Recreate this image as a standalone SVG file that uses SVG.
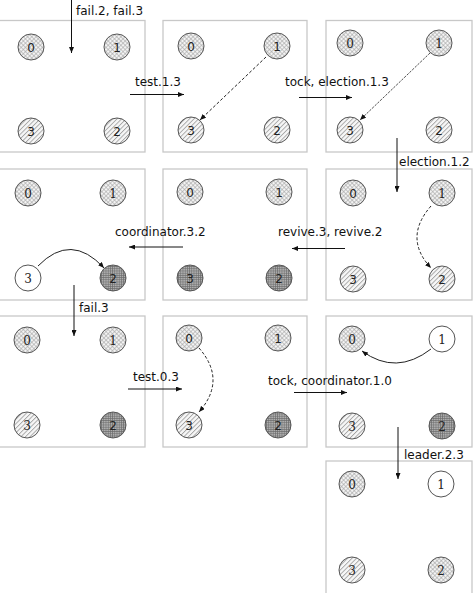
<svg xmlns="http://www.w3.org/2000/svg" width="474" height="593" viewBox="0 0 474 593">
<defs>
<pattern id="lx" width="3" height="3" patternUnits="userSpaceOnUse" patternTransform="rotate(45)">
<rect width="3" height="3" fill="#f4f4f4"/>
<path d="M0,0.5H3M0.5,0V3" stroke="#a4a4a4" stroke-width="0.6"/>
</pattern>
<pattern id="dg" width="3.2" height="3.2" patternUnits="userSpaceOnUse" patternTransform="rotate(-45)">
<rect width="3.2" height="3.2" fill="#f7f7f7"/>
<path d="M0,0.5H3.2" stroke="#8a8a8a" stroke-width="0.7"/>
</pattern>
<pattern id="dk" width="2.2" height="2.2" patternUnits="userSpaceOnUse">
<rect width="2.2" height="2.2" fill="#b0b0b0"/>
<path d="M0,0.4H2.2M0.4,0V2.2" stroke="#6a6a6a" stroke-width="0.6"/>
</pattern>
<marker id="ah" viewBox="0 0 6 5" refX="6" refY="2.5" markerWidth="6" markerHeight="5" orient="auto" markerUnits="userSpaceOnUse">
<path d="M0,0L6,2.5L0,5z" fill="#111"/>
</marker>
<style>
.panel{fill:#fff;stroke:#c8c8c8;stroke-width:1.3}
.n circle{stroke:#555;stroke-width:1}
.n text{font-family:"DejaVu Sans",sans-serif;font-size:12px;fill:#222;text-anchor:middle}
.s text{font-family:"DejaVu Serif",serif}
.lx{fill:url(#lx)}
.dg{fill:url(#dg)}
.dk{fill:url(#dk)}
.wh{fill:#fff}
.lbl{font-family:"DejaVu Sans",sans-serif;font-size:12px;fill:#111}
.tr{fill:none;stroke:#111;stroke-width:1;marker-end:url(#ah)}
.msg{fill:none;stroke:#222;stroke-width:1;marker-end:url(#ah)}
.dash{stroke-dasharray:3,2}
.fine{stroke-dasharray:2.5,1.2;stroke-width:0.8}
</style>
</defs>

<g id="panels">
<rect id="pA" class="panel" x="-1" y="20.5" width="146" height="131.5"/>
<rect id="pB" class="panel" x="163" y="20.5" width="144" height="131.5"/>
<rect id="pC" class="panel" x="326" y="20.5" width="146" height="131.5"/>
<rect id="pD" class="panel" x="-1" y="169" width="146" height="131"/>
<rect id="pE" class="panel" x="163" y="169" width="144" height="131"/>
<rect id="pF" class="panel" x="326" y="169" width="146" height="131"/>
<rect id="pG" class="panel" x="-1" y="316" width="146" height="131"/>
<rect id="pH" class="panel" x="163" y="316" width="144" height="131"/>
<rect id="pI" class="panel" x="326" y="316" width="146" height="131"/>
<rect id="pJ" class="panel" x="326" y="461" width="146" height="140"/>
</g>

<!-- Panel A -->
<g id="A0" class="n"><circle class="lx" cx="31" cy="47" r="13"/><text x="31" y="51.5">0</text></g>
<g id="A1" class="n"><circle class="lx" cx="117" cy="47" r="13"/><text x="117" y="51.5">1</text></g>
<g id="A3" class="n"><circle class="dg" cx="31" cy="131" r="13"/><text x="31" y="135.5">3</text></g>
<g id="A2" class="n"><circle class="dg" cx="117" cy="131" r="13"/><text x="117" y="135.5">2</text></g>

<!-- Panel B -->
<g id="B0" class="n"><circle class="lx" cx="191" cy="46" r="13"/><text x="191" y="50.5">0</text></g>
<g id="B1" class="n"><circle class="lx" cx="277" cy="46" r="13"/><text x="277" y="50.5">1</text></g>
<g id="B3" class="n"><circle class="dg" cx="191" cy="130" r="13"/><text x="191" y="134.5">3</text></g>
<g id="B2" class="n"><circle class="dg" cx="277" cy="130" r="13"/><text x="277" y="134.5">2</text></g>

<!-- Panel C -->
<g id="C0" class="n s"><circle class="lx" cx="350" cy="43" r="13"/><text x="350" y="47.5">0</text></g>
<g id="C1" class="n s"><circle class="lx" cx="439" cy="43" r="13"/><text x="439" y="47.5">1</text></g>
<g id="C3" class="n"><circle class="dg" cx="350" cy="130" r="13"/><text x="350" y="134.5">3</text></g>
<g id="C2" class="n"><circle class="dg" cx="439" cy="130" r="13"/><text x="439" y="134.5">2</text></g>

<!-- Panel D -->
<g id="D0" class="n s"><circle class="lx" cx="28" cy="193" r="13"/><text x="28" y="197.5">0</text></g>
<g id="D1" class="n s"><circle class="lx" cx="113" cy="193" r="13"/><text x="113" y="197.5">1</text></g>
<g id="D3" class="n s"><circle class="wh" cx="28" cy="278" r="13"/><text x="28" y="282.5">3</text></g>
<g id="D2" class="n"><circle class="dk" cx="113" cy="278" r="13"/><text x="113" y="282.5">2</text></g>

<!-- Panel E -->
<g id="E0" class="n"><circle class="lx" cx="190" cy="192" r="13"/><text x="190" y="196.5">0</text></g>
<g id="E1" class="n"><circle class="lx" cx="279" cy="192" r="13"/><text x="279" y="196.5">1</text></g>
<g id="E3" class="n"><circle class="dk" cx="190" cy="278" r="13"/><text x="190" y="282.5">3</text></g>
<g id="E2" class="n"><circle class="dk" cx="279" cy="278" r="13"/><text x="279" y="282.5">2</text></g>

<!-- Panel F -->
<g id="F0" class="n"><circle class="lx" cx="353" cy="193" r="13"/><text x="353" y="197.5">0</text></g>
<g id="F1" class="n s"><circle class="lx" cx="442" cy="193" r="13"/><text x="442" y="197.5">1</text></g>
<g id="F3" class="n"><circle class="dg" cx="353" cy="279" r="13"/><text x="353" y="283.5">3</text></g>
<g id="F2" class="n"><circle class="dg" cx="442" cy="279" r="13"/><text x="442" y="283.5">2</text></g>

<!-- Panel G -->
<g id="G0" class="n s"><circle class="lx" cx="27" cy="340" r="13"/><text x="27" y="344.5">0</text></g>
<g id="G1" class="n s"><circle class="lx" cx="113" cy="340" r="13"/><text x="113" y="344.5">1</text></g>
<g id="G3" class="n s"><circle class="dg" cx="27" cy="425" r="13"/><text x="27" y="429.5">3</text></g>
<g id="G2" class="n"><circle class="dk" cx="113" cy="425" r="13"/><text x="113" y="429.5">2</text></g>

<!-- Panel H -->
<g id="H0" class="n"><circle class="lx" cx="189" cy="338" r="13"/><text x="189" y="342.5">0</text></g>
<g id="H1" class="n"><circle class="lx" cx="278" cy="338" r="13"/><text x="278" y="342.5">1</text></g>
<g id="H3" class="n"><circle class="dg" cx="189" cy="425" r="13"/><text x="189" y="429.5">3</text></g>
<g id="H2" class="n"><circle class="dk" cx="278" cy="425" r="13"/><text x="278" y="429.5">2</text></g>

<!-- Panel I -->
<g id="I0" class="n s"><circle class="lx" cx="352" cy="339" r="13"/><text x="352" y="343.5">0</text></g>
<g id="I1" class="n s"><circle class="wh" cx="442" cy="339" r="13"/><text x="442" y="343.5">1</text></g>
<g id="I3" class="n s"><circle class="dg" cx="352" cy="426" r="13"/><text x="352" y="430.5">3</text></g>
<g id="I2" class="n s"><circle class="dk" cx="442" cy="426" r="13"/><text x="442" y="430.5">2</text></g>

<!-- Panel J -->
<g id="J0" class="n s"><circle class="lx" cx="352" cy="484" r="13"/><text x="352" y="488.5">0</text></g>
<g id="J1" class="n s"><circle class="wh" cx="441" cy="484" r="13"/><text x="441" y="488.5">1</text></g>
<g id="J3" class="n s"><circle class="dg" cx="352" cy="570" r="13"/><text x="352" y="574.5">3</text></g>
<g id="J2" class="n s"><circle class="lx" cx="441" cy="570" r="13"/><text x="441" y="574.5">2</text></g>

<g id="connectors">
<!-- transitions between panels -->
<path class="tr" d="M71.5,0V53"/>
<path class="tr" d="M130,94.5H184"/>
<path class="tr" d="M299,97.5H352"/>
<path class="tr" d="M397,138V192"/>
<path class="tr" d="M345,248.5H292"/>
<path class="tr" d="M183,247H129"/>
<path class="tr" d="M74,285V336"/>
<path class="tr" d="M128,389H182"/>
<path class="tr" d="M294,392.5H347"/>
<path class="tr" d="M398,427V479"/>
<!-- messages inside panels -->
<path class="msg dash" d="M266,57L200,120"/>
<path class="msg fine" d="M430,53L360,120"/>
<path class="msg" d="M38,266Q71,232 104,268"/>
<path class="msg dash" d="M431,206Q403,238 431,268"/>
<path class="msg dash" d="M199,348Q227,380 199,412"/>
<path class="msg" d="M431,349Q396,376 362,351"/>
</g>

<g id="labels">
<text class="lbl" x="76" y="15">fail.2, fail.3</text>
<text class="lbl" x="135" y="86">test.1.3</text>
<text class="lbl" x="285" y="86">tock, election.1.3</text>
<text class="lbl" x="399" y="166">election.1.2</text>
<text class="lbl" x="278" y="236">revive.3, revive.2</text>
<text class="lbl" x="115" y="235.5">coordinator.3.2</text>
<text class="lbl" x="79" y="312">fail.3</text>
<text class="lbl" x="133" y="380.5">test.0.3</text>
<text class="lbl" x="268" y="384.5">tock, coordinator.1.0</text>
<text class="lbl" x="404" y="458.5">leader.2.3</text>
</g>
</svg>
